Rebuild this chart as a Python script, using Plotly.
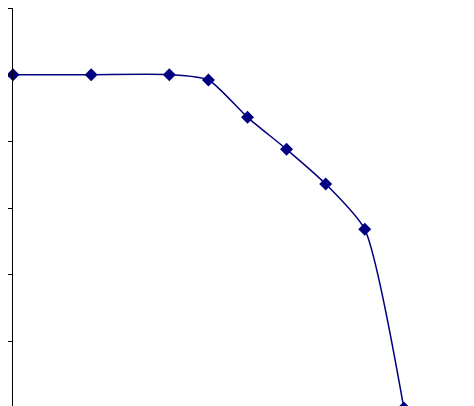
import plotly.graph_objects as go

x_vals = [0, 1, 2, 2.5, 3, 3.5, 4, 4.5, 5]
y_vals = [5.0, 5.0, 5.0, 4.92, 4.36, 3.88, 3.36, 2.68, 0.0]

fig = go.Figure(go.Scatter(
    x=x_vals, y=y_vals, mode="lines+markers",
    line=dict(color="#000080", width=1.5, shape="spline", smoothing=0.6),
    marker=dict(symbol="diamond", size=10, color="#000080"),
    cliponaxis=False,
))
axis = dict(showgrid=False, zeroline=False, showline=True, linecolor="black", linewidth=1,
            ticks="outside", ticklen=5, tickcolor="black", showticklabels=False,
            range=[0, 6], dtick=1)
fig.update_layout(
    width=474, height=406, margin=dict(l=5, r=0, t=0, b=6, autoexpand=False),
    plot_bgcolor="white", paper_bgcolor="white", showlegend=False,
    xaxis=axis, yaxis=axis,
)
fig.write_html("out.html")
